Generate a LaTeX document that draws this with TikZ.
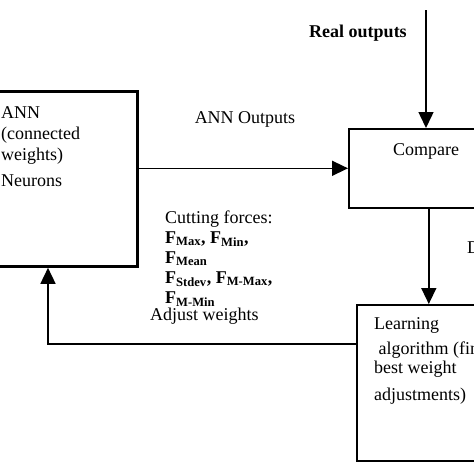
\documentclass[tikz,border=0pt]{standalone}
\usepackage{fontspec}
\setmainfont{Liberation Serif}
\usetikzlibrary{arrows.meta}
\begin{document}
\begin{tikzpicture}[x=1pt,y=-1pt]
  \tikzstyle{bloc}=[draw=black, line width=1.6pt, anchor=north west, inner sep=0pt]
  \tikzstyle{fleche}=[-{Triangle[length=16pt,width=15pt]}, line width=1.5pt]
  \tikzstyle{texte}=[font=\fontsize{18}{21}\selectfont, inner sep=0pt, align=left]
  \useasboundingbox (0,0) rectangle (474,474);
  \clip (0,0) rectangle (474,474);
  % blocs
  \node[bloc, line width=2.8pt, minimum width=176pt, minimum height=175pt] (ann) at (-40,90) {};
  \node[bloc, minimum width=160pt, minimum height=79pt] (compare) at (348,128) {};
  \node[bloc, minimum width=160pt, minimum height=156pt] (learn) at (356,304) {};
  % textes
  \node[texte, anchor=north west] (anntxt) at (1,106) {ANN\\(connected\\weights)\\[5pt] Neurons};
  \node[texte] (cmptxt) at (426,151) {Compare};
  \node[texte, anchor=north west] (lrntxt) at (374,317.5) {Learning\\[4pt] \ algorithm (find\\[-2pt] best weight\\[6pt] adjustments)};
  \node[texte] (outlbl) at (245,119) {ANN Outputs};
  \node[texte, font=\fontsize{18}{21}\selectfont\bfseries] (reallbl) at (358,33) {Real outputs};
  \node[texte, anchor=west] (dlbl) at (467,248) {D};
  \node[texte, anchor=north west, font=\fontsize{18}{20}\selectfont] (forces) at (165,210.5)
    {Cutting forces:\\
     \textbf{F\textsubscript{Max}, F\textsubscript{Min},}\\
     \textbf{F\textsubscript{Mean}}\\
     \textbf{F\textsubscript{Stdev}, F\textsubscript{M-Max},}\\
     \textbf{F\textsubscript{M-Min}}};
  \node[texte, anchor=base west] (adjlbl) at (150,320) {Adjust weights};
  % fleches
  \coordinate (src) at (426,10);
  \coordinate (fb) at (48,344);
  \draw[fleche] (src) -- (src |- compare.north);
  \draw[fleche] (ann.east |- compare.west) -- (compare.west);
  \draw[fleche] (compare.south) -- (compare.south |- learn.north);
  \draw[fleche] (learn.west |- fb) -- (fb) -- (fb |- ann.south);
\end{tikzpicture}
\end{document}
